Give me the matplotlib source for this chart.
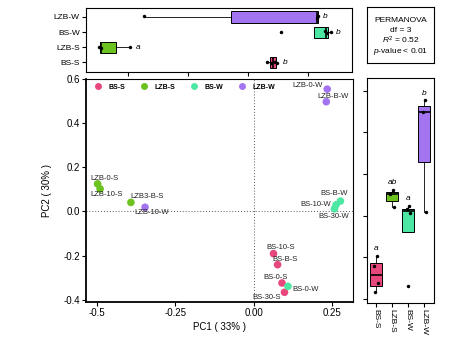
import numpy as np
import matplotlib
matplotlib.use("Agg")
import matplotlib.pyplot as plt
from matplotlib.lines import Line2D

plt.rcParams['font.family'] = ['Liberation Sans', 'DejaVu Sans']
plt.rcParams['mathtext.fontset'] = 'custom'
plt.rcParams['mathtext.rm'] = 'Liberation Sans'
plt.rcParams['mathtext.it'] = 'Liberation Sans:italic'

# PCoA scores per sample
groups = ["BS-S", "LZB-S", "BS-W", "LZB-W"]
colors = ["#E8477C", "#6CC21E", "#4CE8A3", "#A374F0"]

names = ["BS-10-S", "BS-B-S", "BS-0-S", "BS-30-S",
         "LZB-0-S", "LZB-10-S", "LZB3-B-S",
         "BS-B-W", "BS-10-W", "BS-30-W", "BS-0-W",
         "LZB-0-W", "LZB-B-W", "LZB-10-W"]
grp = ["BS-S"] * 4 + ["LZB-S"] * 3 + ["BS-W"] * 4 + ["LZB-W"] * 3
pc1 = [0.063, 0.076, 0.090, 0.098,
       -0.497, -0.489, -0.391,
       0.276, 0.262, 0.257, 0.109,
       0.234, 0.231, -0.346]
pc2 = [-0.191, -0.241, -0.324, -0.366,
       0.125, 0.102, 0.041,
       0.047, 0.030, 0.012, -0.339,
       0.554, 0.497, 0.019]

letters_pc1 = ["b", "a", "b", "b"]
letters_pc2 = ["a", "ab", "a", "b"]

# label offsets in pixels (dx, dy)
lab_off = {"LZB-0-S": (7, 5.6), "LZB-10-S": (6, -5.7), "LZB3-B-S": (16.3, 6),
           "LZB-10-W": (6.7, -5), "LZB-0-W": (-20, 4), "LZB-B-W": (7, 5.3),
           "BS-B-W": (-6, 7.4), "BS-10-W": (-20.4, 0), "BS-30-W": (-0.8, -7.7),
           "BS-10-S": (6.8, 6), "BS-B-S": (7, 5.3), "BS-0-S": (-6.5, 5.4),
           "BS-0-W": (17.9, -3.3), "BS-30-S": (-18.3, -5.3)}

pc1 = np.array(pc1)
pc2 = np.array(pc2)
grp = np.array(grp)
jit = [0.06, -0.1, 0.1, -0.04]

fig = plt.figure(figsize=(4.74, 3.46), dpi=100)
ax = fig.add_axes([0.1814, 0.1272, 0.5633, 0.6445])
axt = fig.add_axes([0.1814, 0.7928, 0.5612, 0.1832])
axr = fig.add_axes([0.7749, 0.1251, 0.1401, 0.6486])
axp = fig.add_axes([0.7749, 0.817, 0.1401, 0.1618])

# main scatter
ax.axhline(0, color="#555555", ls=(0, (1, 2)), lw=0.7, zorder=1)
ax.axvline(0, color="#555555", ls=(0, (1, 2)), lw=0.7, zorder=1)
for g, c in zip(groups, colors):
    m = grp == g
    ax.scatter(pc1[m], pc2[m], s=30, color=c, edgecolors="none", zorder=3)
for n, x, y in zip(names, pc1, pc2):
    dx, dy = lab_off[n]
    ax.annotate(n, (x, y), xytext=(dx, dy), textcoords="offset pixels",
                ha="center", va="center", fontsize=5.5, color="#222222", zorder=4)
ax.set_xlim(-0.534, 0.316)
ax.set_ylim(-0.41, 0.6)
ax.set_xticks([-0.5, -0.25, 0, 0.25])
ax.set_xticklabels(["-0.5", "-0.25", "0.00", "0.25"])
ax.set_yticks([-0.4, -0.2, 0, 0.2, 0.4, 0.6])
ax.set_yticklabels(["-0.4", "-0.2", "0.0", "0.2", "0.4", "0.6"])
ax.tick_params(labelsize=7, length=3, width=0.8, pad=1.5)
ax.set_xlabel("PC1 ( 33% )", fontsize=7, labelpad=3)
ax.set_ylabel("PC2 ( 30% )", fontsize=7, labelpad=8)
for s in ax.spines.values():
    s.set_linewidth(0.8)
ax.spines["left"].set_linewidth(1.3)
ax.spines["bottom"].set_linewidth(1.3)
handles = [Line2D([], [], ls="none", marker="o", ms=5, color=c, mec="none") for c in colors]
ax.legend(handles, groups, loc="upper left", ncol=4, frameon=False,
          prop=dict(size=5, weight="bold"),
          handletextpad=0.6, columnspacing=1.6, borderaxespad=0.3,
          bbox_to_anchor=(0.0, 1.0))

box_kw = dict(widths=0.74, patch_artist=True, showcaps=False, showfliers=False,
              medianprops=dict(color="black", lw=1.2),
              whiskerprops=dict(color="black", lw=0.6),
              boxprops=dict(edgecolor="black", lw=0.7))

# PC1 by group
data1 = [pc1[grp == g] for g in groups]
bp = axt.boxplot(data1, positions=[1, 2, 3, 4], orientation="horizontal", **box_kw)
for p, c in zip(bp["boxes"], colors):
    p.set_facecolor(c)
for i, d in enumerate(data1):
    axt.plot(d, i + 1 + np.array(jit[:len(d)]) * 0.5, "o", color="black", ms=2.5, mec="none", zorder=4)
    axt.annotate(letters_pc1[i], (d.max(), i + 1), xytext=(5, 0), textcoords="offset pixels",
                 ha="left", va="center", fontsize=6, style="italic")
axt.set_xlim(-0.539, 0.346)
axt.set_ylim(0.39, 4.57)
axt.set_xticks([-0.4, -0.2, 0, 0.2])
axt.set_xticklabels([])
axt.set_yticks([1, 2, 3, 4])
axt.set_yticklabels(groups)
axt.tick_params(labelsize=6, length=3, width=0.8, pad=1.5)
for s in axt.spines.values():
    s.set_linewidth(0.8)

# PC2 by group
data2 = [pc2[grp == g] for g in groups]
bp = axr.boxplot(data2, positions=[1, 2, 3, 4], **box_kw)
for p, c in zip(bp["boxes"], colors):
    p.set_facecolor(c)
for i, d in enumerate(data2):
    axr.plot(i + 1 + np.array(jit[:len(d)]), d, "o", color="black", ms=2.5, mec="none", zorder=4)
    axr.annotate(letters_pc2[i], (i + 1, d.max()), xytext=(0, 7), textcoords="offset pixels",
                 ha="center", va="center", fontsize=6, style="italic")
axr.set_xlim(0.456, 4.59)
axr.set_ylim(-0.417, 0.659)
axr.set_yticks([-0.4, -0.2, 0, 0.2, 0.4, 0.6])
axr.set_yticklabels([])
axr.set_xticks([1, 2, 3, 4])
axr.set_xticklabels(groups, rotation=-90)
axr.tick_params(labelsize=6, length=3, width=0.8, pad=1.5)
for s in axr.spines.values():
    s.set_linewidth(0.8)

# PERMANOVA summary
axp.set_xticks([])
axp.set_yticks([])
for s in axp.spines.values():
    s.set_linewidth(0.8)
axp.text(0.5, 0.76, "PERMANOVA", ha="center", va="center", fontsize=6, transform=axp.transAxes)
axp.text(0.5, 0.59, "df = 3", ha="center", va="center", fontsize=6, transform=axp.transAxes)
axp.text(0.5, 0.41, r"$R^2$ = 0.52", ha="center", va="center", fontsize=6, transform=axp.transAxes)
axp.text(0.5, 0.21, r"$p$-value < 0.01", ha="center", va="center", fontsize=6, transform=axp.transAxes)

fig.savefig("out.png", dpi=100)
